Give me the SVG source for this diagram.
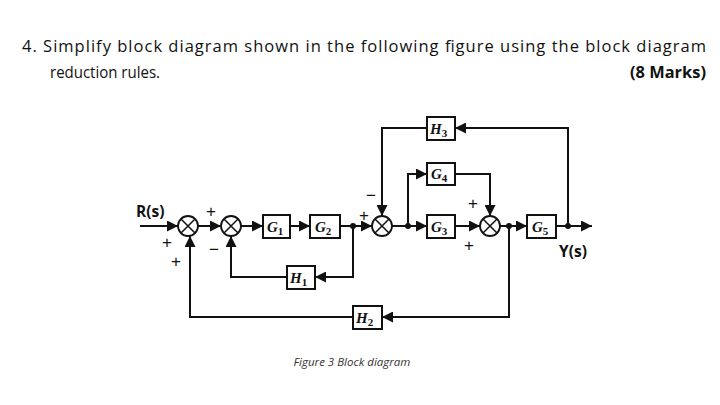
<svg xmlns="http://www.w3.org/2000/svg" width="720" height="405" viewBox="0 0 720 405">
<style>
.t{font-family:"Open Sans","Liberation Sans",sans-serif;font-size:16.5px;fill:#111}
.b{font-family:"Open Sans","Liberation Sans",sans-serif;font-weight:bold;fill:#111}
.sg{font-family:"Liberation Serif",serif;font-style:italic;font-weight:bold;font-size:15px;fill:#111}
.sub{font-size:11px;font-style:normal}
.box{fill:#fff;stroke:#111;stroke-width:2}
.sum{fill:#fff;stroke:#111;stroke-width:1.8}
.x{stroke:#111;stroke-width:1.5}
.w{fill:none;stroke:#111;stroke-width:2}
.sign{font-family:"Liberation Sans",sans-serif;font-size:17px;fill:#111}
</style>
<defs>
<marker id="ah" viewBox="0 0 10 10" refX="10" refY="5" markerWidth="5.5" markerHeight="5.5" orient="auto" markerUnits="strokeWidth">
<path d="M0,0 L10,5 L0,10 z" fill="#111"/>
</marker>
</defs>
<rect width="720" height="405" fill="#fff"/>
<text class="t" x="22" y="52" textLength="684" lengthAdjust="spacing">4. Simplify block diagram shown in the following figure using the block diagram</text>
<text class="t" x="50" y="78" textLength="110" lengthAdjust="spacingAndGlyphs">reduction rules.</text>
<text class="b" x="706" y="78" font-size="16.5" text-anchor="end" textLength="76" lengthAdjust="spacingAndGlyphs">(8 Marks)</text>

<g id="connectors">
<path class="w" d="M140,226 H178" marker-end="url(#ah)"/>
<path class="w" d="M198,226 H221" marker-end="url(#ah)"/>
<path class="w" d="M241,226 H263" marker-end="url(#ah)"/>
<path class="w" d="M290,226 H310" marker-end="url(#ah)"/>
<path class="w" d="M340,226 H372" marker-end="url(#ah)"/>
<path class="w" d="M392,226 H427" marker-end="url(#ah)"/>
<path class="w" d="M455,226 H480" marker-end="url(#ah)"/>
<path class="w" d="M500,226 H527" marker-end="url(#ah)"/>
<path class="w" d="M556,226 H592" marker-end="url(#ah)"/>
<path class="w" d="M568,226 V128 H455" marker-end="url(#ah)"/>
<path class="w" d="M427,128 H382 V216" marker-end="url(#ah)"/>
<path class="w" d="M408,226 V174 H427" marker-end="url(#ah)"/>
<path class="w" d="M455,174 H490 V216" marker-end="url(#ah)"/>
<path class="w" d="M353,226 V277 H315" marker-end="url(#ah)"/>
<path class="w" d="M287,277 H231 V236" marker-end="url(#ah)"/>
<path class="w" d="M509,226 V317 H382" marker-end="url(#ah)"/>
<path class="w" d="M353,317 H190 V236" marker-end="url(#ah)"/>
<circle cx="353" cy="226" r="3" fill="#111"/>
<circle cx="408" cy="226" r="3" fill="#111"/>
<circle cx="509" cy="226" r="3" fill="#111"/>
<circle cx="568" cy="226" r="3" fill="#111"/>
</g>

<g id="sum1"><circle class="sum" cx="188" cy="226" r="10"/><path class="x" d="M181,219 L195,233 M195,219 L181,233"/></g>
<g id="sum2"><circle class="sum" cx="231" cy="226" r="10"/><path class="x" d="M224,219 L238,233 M238,219 L224,233"/></g>
<g id="sum3"><circle class="sum" cx="382" cy="226" r="10"/><path class="x" d="M375,219 L389,233 M389,219 L375,233"/></g>
<g id="sum4"><circle class="sum" cx="490" cy="226" r="10"/><path class="x" d="M483,219 L497,233 M497,219 L483,233"/></g>

<g id="G1"><rect class="box" x="263" y="215" width="27" height="23"/><text class="sg" x="267" y="232">G<tspan class="sub" dy="3">1</tspan></text></g>
<g id="G2"><rect class="box" x="310" y="215" width="30" height="23"/><text class="sg" x="315" y="232">G<tspan class="sub" dy="3">2</tspan></text></g>
<g id="G3"><rect class="box" x="427" y="215" width="28" height="23"/><text class="sg" x="431" y="232">G<tspan class="sub" dy="3">3</tspan></text></g>
<g id="G4"><rect class="box" x="427" y="163" width="28" height="22"/><text class="sg" x="431" y="179">G<tspan class="sub" dy="3">4</tspan></text></g>
<g id="G5"><rect class="box" x="527" y="215" width="29" height="23"/><text class="sg" x="532" y="232">G<tspan class="sub" dy="3">5</tspan></text></g>
<g id="H1"><rect class="box" x="287" y="266" width="28" height="23"/><text class="sg" x="290" y="283">H<tspan class="sub" dy="3">1</tspan></text></g>
<g id="H2"><rect class="box" x="353" y="306" width="29" height="23"/><text class="sg" x="356" y="323">H<tspan class="sub" dy="3">2</tspan></text></g>
<g id="H3"><rect class="box" x="427" y="117" width="28" height="23"/><text class="sg" x="430" y="134">H<tspan class="sub" dy="3">3</tspan></text></g>

<text class="b" x="136" y="217" font-size="15.5">R(s)</text>
<text class="b" x="559" y="257" font-size="15.5">Y(s)</text>
<text class="sign" x="162" y="248">+</text>
<text class="sign" x="171" y="267">+</text>
<text class="sign" x="206" y="217">+</text>
<text class="sign" x="209" y="255">−</text>
<text class="sign" x="359" y="221">+</text>
<text class="sign" x="366" y="201">−</text>
<text class="sign" x="468" y="209">+</text>
<text class="sign" x="464" y="251">+</text>
<text x="352" y="366" text-anchor="middle" font-family="Open Sans, Liberation Sans, sans-serif" font-style="italic" font-size="11.5" fill="#333">Figure 3 Block diagram</text>
</svg>
